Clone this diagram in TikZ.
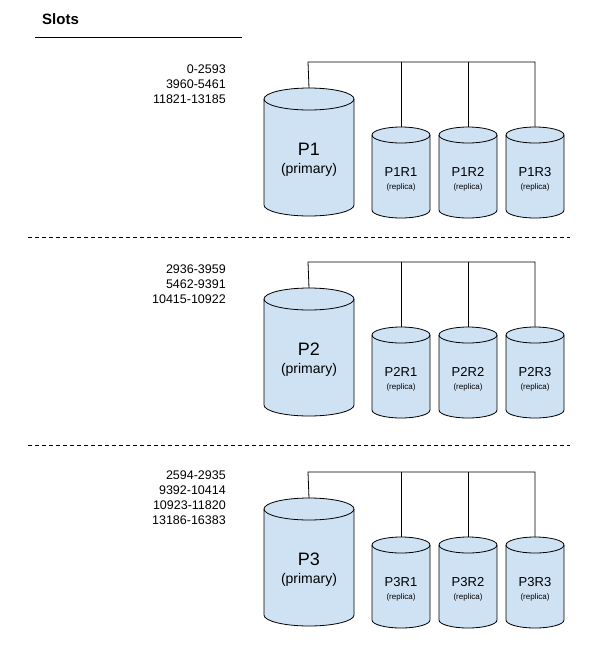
\documentclass[tikz,border=0pt]{standalone}
\usepackage{fontspec}
\setmainfont{Liberation Sans}
\definecolor{cylfill}{HTML}{CFE2F3}
\newcommand{\mycyl}[6]{% name x1 x2 top bottom ry
  \pgfmathsetmacro{\cx}{(#2+#3)/2}\pgfmathsetmacro{\rx}{(#3-#2)/2}
  \fill[cylfill] (#2,#4+#6) -- (#2,#5-#6) arc(180:360:\rx pt and #6pt) -- (#3,#4+#6) arc(0:180:\rx pt and #6pt) -- cycle;
  \draw[cyl] (#2,#4+#6) -- (#2,#5-#6) arc(180:360:\rx pt and #6pt) -- (#3,#4+#6);
  \draw[cyl] (\cx,#4+#6) ellipse[x radius=\rx pt, y radius=#6pt];
  \coordinate (#1top) at (\cx,#4);
  \coordinate (#1c) at (\cx,{(#4+#5)/2+#6});
}
\tikzset{cyl/.style={draw=black,line width=0.8pt},
  slot/.style={anchor=east,font=\fontsize{12.5}{14}\selectfont,align=right,inner sep=0pt},
  plab/.style={align=center,font=\fontsize{18}{20}\selectfont,inner sep=0pt},
  rlab/.style={align=center,font=\fontsize{13}{14}\selectfont,inner sep=0pt},
  conn/.style={draw=black,line width=0.8pt},
  sep/.style={draw=black,dashed,line width=0.7pt,dash pattern=on 4pt off 3pt}}
\newcommand{\block}[4]{% index offset slots-text slotY
  \begin{scope}[yshift=-#2pt]
  \mycyl{P#1}{264}{354}{88}{216}{11}
  \mycyl{P#1R1}{372}{430}{127}{218}{8}
  \mycyl{P#1R2}{439}{497}{127}{218}{8}
  \mycyl{P#1R3}{506}{564}{127}{218}{8}
  \coordinate (bus#1) at (308,62);
  \node[plab] (lP#1) at ([yshift=3pt]P#1c) {P#1\\[-2pt]{\fontsize{14}{16}\selectfont(primary)}};
  \foreach \r in {1,2,3}{
    \node[rlab] (lP#1R\r) at ([yshift=1pt]P#1R\r c) {P#1R\r\\[-1pt]{\fontsize{8}{9}\selectfont(replica)}};}
  \draw[conn] (P#1top) -- (bus#1) -| (P#1R3top);
  \draw[conn] (P#1R1top) -- (P#1R1top |- bus#1);
  \draw[conn] (P#1R2top) -- (P#1R2top |- bus#1);
  \node[slot,anchor=north east] (s#1) at (226,#4) {#3};
  \end{scope}}
\begin{document}
\begin{tikzpicture}[x=1pt,y=-1pt]
\useasboundingbox (0,0) rectangle (601,657);
\fill[white] (0,0) rectangle (601,657);
\node[anchor=west,font=\bfseries\fontsize{15}{16}\selectfont,inner sep=0pt] (title) at (42,19) {Slots};
\coordinate (ul1) at (35,37); \coordinate (ul2) at (242,37);
\draw[line width=0.8pt] (ul1) -- (ul2);
\block{1}{0}{0-2593\\[1pt]3960-5461\\[1pt]11821-13185}{65}
\block{2}{200}{2936-3959\\[1pt]5462-9391\\[1pt]10415-10922}{65}
\block{3}{410}{2594-2935\\[1pt]9392-10414\\[1pt]10923-11820\\[1pt]13186-16383}{61}
\coordinate (d1a) at (28,237); \coordinate (d1b) at (570,237);
\coordinate (d2a) at (28,445); \coordinate (d2b) at (570,445);
\draw[sep] (d1a) -- (d1b);
\draw[sep] (d2a) -- (d2b);
\end{tikzpicture}
\end{document}
